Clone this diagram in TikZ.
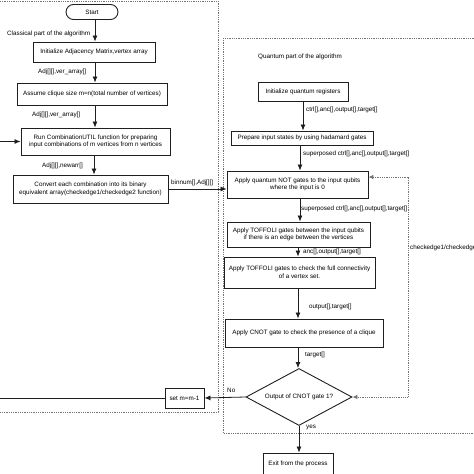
\documentclass[tikz,border=0pt]{standalone}
\usepackage{fontspec}
\setmainfont{Liberation Sans}
\usetikzlibrary{shapes.geometric, arrows.meta}
\definecolor{dot-gray}{gray}{0.45}
\definecolor{line-dark}{gray}{0.12}

\begin{document}
\begin{tikzpicture} [x=1pt, y=-1pt,
  font=\fontsize{6.3}{7.6}\selectfont,
  box/.style={draw=line-dark, line width=0.9pt, align=center, inner sep=1pt},
  lbl/.style={anchor=west, inner sep=0pt},
  arr/.style={-{Latex[length=6pt,width=5pt]}, line-dark, line width=0.8pt},
  part/.style={dot-gray, densely dotted, line width=0.8pt},
  fb/.style={{Latex[length=5pt,width=4.5pt]}-{Latex[length=5pt,width=4.5pt]}, dot-gray, densely dotted, line width=0.8pt}]%Clique flowchart
\useasboundingbox (0,0) rectangle (474,474);
% the two parts
\draw [part] (-10,1) rectangle (218,412);
\draw [part] (223,38) rectangle (490,433);
\node [lbl] (classlbl) at (7,34) {Classical part of the algorithm};
\node [lbl] (quantlbl) at (258,57) {Quantum part of the algorithm};
% classical column
\node [box, rounded corners=7.5pt, minimum width=52pt, minimum height=15pt] (start) at (92,12) {Start};
\node [box, minimum width=122pt, minimum height=20pt] (init) at (94,52) {Initialize Adjacency Matrix,vertex array};
\node [box, minimum width=150pt, minimum height=22pt] (assume) at (92,94) {Assume clique size m=n(total number of vertices)};
\node [box, minimum width=149pt, minimum height=27pt] (run) at (95.5,141.5) {Run CombinationUTIL function for preparing\\input combinations of m vertices from n vertices};
\node [box, minimum width=155pt, minimum height=28pt] (conv) at (90.5,189) {Convert each combination into its binary\\equivalent array(checkedge1/checkedge2 function)};
\node [box, minimum width=39pt, minimum height=20pt] (setm) at (184.5,398) {set m=m-1};
% quantum column
\node [box, minimum width=90pt, minimum height=19pt] (qinit) at (303,91.5) {Initialize quantum registers};
\node [box, minimum width=142pt, minimum height=14pt] (prep) at (302,138) {Prepare input states by using hadamard gates};
\node [box, minimum width=141pt, minimum height=27pt] (notg) at (297.5,184.5) {Apply quantum NOT gates to the input qubits\\where the input is 0};
\node [box, minimum width=143pt, minimum height=25pt] (tof1) at (298.5,234.5) {Apply TOFFOLI gates between the input qubits\\if there is an edge between the vertices};
\node [box, minimum width=151pt, minimum height=31pt] (tof2) at (299.5,272.5) {Apply TOFFOLI gates to check the full connectivity\\of a vertex set.};
\node [box, minimum width=158pt, minimum height=28pt] (cnot) at (304,333) {Apply CNOT gate to check the presence of a clique};
\node [box, diamond, aspect=1.86, minimum width=106pt, minimum height=57pt, inner sep=0pt] (dec) at (299,397) {Output of CNOT gate 1?};
\node [box, minimum width=70pt, minimum height=22pt] (exit) at (298,464) {Exit from the process};
% arrows, classical
\draw [arr] (start.south -| 95,0) -- (init.north -| 95,0);
\draw [arr] (init.south -| 95,0) -- (assume.north -| 95,0);
\draw [arr] (assume.south -| 95,0) -- (run.north -| 95,0);
\draw [arr] (run.south -| 94,0) -- (conv.north -| 94,0);
\draw [arr] (conv.east) -- (conv.east -| notg.west);
\coordinate (loopx) at (-10,398);
\draw [arr] (setm.west) -- (loopx) |- (run.west);
\node [lbl] (l1) at (38,72) {Adj[][],ver\_array[]};
\node [lbl] (l2) at (32,115) {Adj[][],ver\_array[]};
\node [lbl] (l3) at (42,166) {Adj[][],newarr[]};
\node [lbl] (l4) at (171,183) {binnum[],Adj[][]};
% arrows, quantum
\draw [arr] (qinit.south) -- (qinit.south |- prep.north);
\draw [arr] (prep.south -| 300,0) -- (notg.north -| 300,0);
\draw [arr] (notg.south -| 300,0) -- (tof1.north -| 300,0);
\draw [arr] (tof1.south -| 298,0) -- (tof2.north -| 298,0);
\draw [arr] (tof2.south -| 298,0) -- (cnot.north -| 298,0);
\draw [arr] (cnot.south -| 298,0) -- (dec.north -| 298,0);
\draw [arr] (dec.south) -- (exit.north -| dec.south);
\draw [arr] (dec.west) -- (setm.east);
\node [lbl] (l5) at (306,110) {ctrl[],anc[],output[],target[]};
\node [lbl] (l6) at (303,154) {superposed ctrl[],anc[],output[],target[]};
\node [lbl] (l7) at (301,209) {superposed ctrl[],anc[],output[],target[]};
\node [lbl] (l8) at (303,252) {anc[],output[],target[]};
\node [lbl] (l9) at (309,307) {output[],target[]};
\node [lbl] (l10) at (305,355) {target[]};
\node [lbl] (no) at (227,390) {No};
\node [lbl] (yes) at (306,427) {yes};
% feedback loop
\coordinate (fbtop) at (408,177);
\coordinate (fbbot) at (408,397);
\draw [fb] (notg.east |- fbtop) -- (fbtop) -- (fbbot) -- (dec.east);
\node [lbl] (l11) at (410,248) {checkedge1/checkedge2};
\end{tikzpicture}
\end{document}
